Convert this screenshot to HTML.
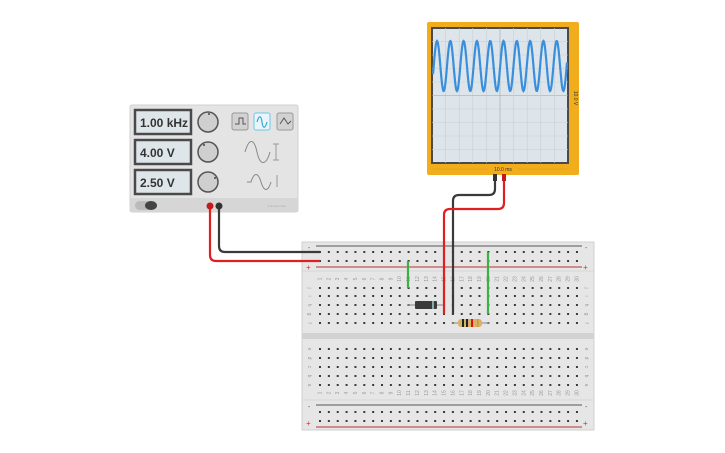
<!DOCTYPE html>
<html><head><meta charset="utf-8"><style>
html,body{margin:0;padding:0;background:#fff;width:725px;height:453px;overflow:hidden}
svg{display:block;font-family:"Liberation Sans",sans-serif}
</style></head><body>
<svg id="s" width="725" height="453" viewBox="0 0 725 453" xmlns="http://www.w3.org/2000/svg">
<!-- Function generator -->
<rect x="130" y="105" width="168" height="107" rx="2" fill="#e4e4e4" stroke="#d0d0d0"/>
<rect x="130" y="198" width="168" height="14" fill="#d6d6d6"/>
<g fill="#dfe6ea" stroke="#4a4a4a" stroke-width="2.5">
<rect x="135" y="110" width="56" height="24"/>
<rect x="135" y="140" width="56" height="24"/>
<rect x="135" y="170" width="56" height="24"/>
</g>
<g font-weight="bold" font-size="12" fill="#333">
<text x="140" y="127">1.00 kHz</text>
<text x="140" y="157">4.00 V</text>
<text x="140" y="187">2.50 V</text>
</g>
<g fill="#cfcfcf" stroke="#555" stroke-width="1.5">
<circle cx="208" cy="122" r="10"/><circle cx="208" cy="152" r="10"/><circle cx="208" cy="182" r="10"/>
</g>
<g fill="#444"><circle cx="209" cy="114" r="1"/><circle cx="204" cy="145" r="1"/><circle cx="215" cy="178" r="1"/></g>
<rect x="232" y="113" width="16" height="17" rx="2" fill="#d2d2d2" stroke="#999"/>
<rect x="254" y="113" width="16" height="17" rx="2" fill="#e8f6fb" stroke="#6cc6e8"/>
<rect x="277" y="113" width="16" height="17" rx="2" fill="#d2d2d2" stroke="#999"/>
<path d="M235 124h4v-6h4v6h3" fill="none" stroke="#555"/>
<path d="M257 122c2-7 4-7 5 0s3 7 5 0" fill="none" stroke="#3aa3d4" stroke-width="1.2"/>
<path d="M280 124l4-6 4 6 3-3" fill="none" stroke="#555"/>
<path d="M245 152c4-14 9-14 12 0s9 14 13 0" fill="none" stroke="#888"/>
<path d="M276 144v16M273 144h6M273 160h6" stroke="#999" fill="none"/>
<path d="M247 182h4c3-10 7-10 10 0s7 10 10 0" fill="none" stroke="#888"/>
<path d="M277 175v12" stroke="#999"/>
<rect x="135" y="201" width="22" height="9" rx="4.5" fill="#bbb"/>
<ellipse cx="151" cy="205.5" rx="6" ry="4.5" fill="#444"/>
<text x="268" y="207" font-size="3" fill="#aaa">Function Gen</text>
<!-- Scope -->
<rect x="427" y="22" width="152" height="153" rx="2" fill="#f2ad1c"/>
<rect x="432" y="28" width="136" height="135" fill="#dde5ea" stroke="#4a4a4a" stroke-width="2"/>
<g id="grid" stroke-width="0.6"></g>
<path id="sine" fill="none" stroke="#3a8fdc" stroke-width="2.2"/>
<text x="0" y="0" font-size="5" fill="#333" transform="translate(574,98) rotate(90)" text-anchor="middle">10.0 V</text>
<line x1="433" y1="169" x2="567" y2="169" stroke="#d89514" stroke-width="0.6"/>
<rect x="488" y="165" width="30" height="7" fill="#f2ad1c"/>
<text x="503" y="171" font-size="5" fill="#333" text-anchor="middle">10.0 ms</text>
<!-- Breadboard -->
<rect x="302" y="242" width="292" height="188" fill="#e6e6e6" stroke="#d0d0d0"/>
<rect x="302" y="333" width="292" height="6" fill="#d2d2d2"/>
<line x1="302" y1="271" x2="594" y2="271" stroke="#d6d6d6"/>
<line x1="302" y1="400" x2="594" y2="400" stroke="#d6d6d6"/>
<g stroke-width="1"><line x1="316" y1="246" x2="582" y2="246" stroke="#555"/>
<line x1="316" y1="267" x2="582" y2="267" stroke="#b33"/>
<line x1="316" y1="405" x2="582" y2="405" stroke="#555"/>
<line x1="316" y1="427" x2="582" y2="427" stroke="#b33"/></g>
<g font-size="8" fill="#c33"><text x="306" y="270">+</text><text x="583" y="270">+</text><text x="306" y="426">+</text><text x="583" y="426">+</text></g>
<g font-size="7" fill="#555"><text x="308" y="250">-</text><text x="585" y="250">-</text><text x="308" y="409">-</text><text x="585" y="409">-</text></g>
<g id="holes" fill="#3a3a3a"></g>
<g id="labels" font-size="5" fill="#999" text-anchor="middle"></g>
<!-- wires -->
<g fill="none" stroke-width="2.2" stroke-linejoin="round">
<path d="M219 206V246q0 6 6 6H320" stroke="#3a3a3a"/>
<path d="M210 206V255q0 6 6 6H320" stroke="#e02020"/>
<path d="M495 178V189q0 6-6 6H459q-6 0-6 6V314" stroke="#3a3a3a"/>
<path d="M504 178V203q0 6-6 6H450q-6 0-6 6V314" stroke="#e02020"/>
<path d="M408 261V288" stroke="#3cb043"/>
<path d="M488 252V314" stroke="#3cb043"/>
</g>
<circle cx="210" cy="206" r="3.5" fill="#c41a1a"/><circle cx="219" cy="206" r="3.5" fill="#333"/>
<rect x="493" y="174" width="4" height="7" fill="#333"/><rect x="502" y="174" width="4" height="7" fill="#c41a1a"/>
<!-- diode -->
<line x1="408" y1="305" x2="443" y2="305" stroke="#999" stroke-width="1.2"/>
<rect x="415" y="301" width="22" height="8" rx="1" fill="#3a3a3a"/>
<rect x="432" y="301" width="2" height="8" fill="#8aa"/>
<!-- resistor -->
<line x1="452" y1="323" x2="489" y2="323" stroke="#999" stroke-width="1.2"/>
<rect x="458" y="319" width="24" height="8" rx="3" fill="#d9b26a"/>
<rect x="462" y="319" width="2" height="8" fill="#222"/><rect x="466" y="319" width="2" height="8" fill="#222"/>
<rect x="471" y="319" width="2" height="8" fill="#e01010"/><rect x="477" y="319" width="1.5" height="8" fill="#c8a030"/>
</svg>
<script>
var NS="http://www.w3.org/2000/svg";
function el(p,t,a){var e=document.createElementNS(NS,t);for(var k in a)e.setAttribute(k,a[k]);document.getElementById(p).appendChild(e);return e;}
for(var i=1;i<10;i++){var x=432+i*13.6,y=28+i*13.5;
el('grid','line',{x1:x,y1:28,x2:x,y2:163,stroke:i==5?'#9aa4aa':'#c8d0d5'});
el('grid','line',{x1:432,y1:y,x2:568,y2:y,stroke:i==5?'#9aa4aa':'#c8d0d5'});}
var d='';for(var x=433;x<=567;x+=0.5){var y=66-25*Math.sin(2*Math.PI*(x-433.7)/13.3);d+=(x==433?'M':'L')+x+' '+y.toFixed(2);}
document.getElementById('sine').setAttribute('d',d);
var rows=[252,261,288,296,305,314,323,349,358,367,376,385,412,421];
for(var c=0;c<30;c++){var x=320+c*8.86;
rows.forEach(function(y){el('holes','rect',{x:(x-1).toFixed(2),y:y-1,width:2,height:2});});
el('labels','text',{x:0,y:0,transform:'translate('+(x+1.5).toFixed(2)+',279) rotate(-90)'}).textContent=c+1;
el('labels','text',{x:0,y:0,transform:'translate('+(x+1.5).toFixed(2)+',393) rotate(-90)'}).textContent=c+1;}
function lt(ch,y){el('labels','text',{x:0,y:0,transform:'translate(308,'+y+') rotate(90)'}).textContent=ch;
el('labels','text',{x:0,y:0,transform:'translate(585,'+y+') rotate(90)'}).textContent=ch;}
var L=['j','i','h','g','f'],R=[288,296,305,314,323];
for(var i=0;i<5;i++)lt(L[i],R[i]);
L=['e','d','c','b','a'];R=[349,358,367,376,385];
for(var i=0;i<5;i++)lt(L[i],R[i]);
</script>
</body></html>
